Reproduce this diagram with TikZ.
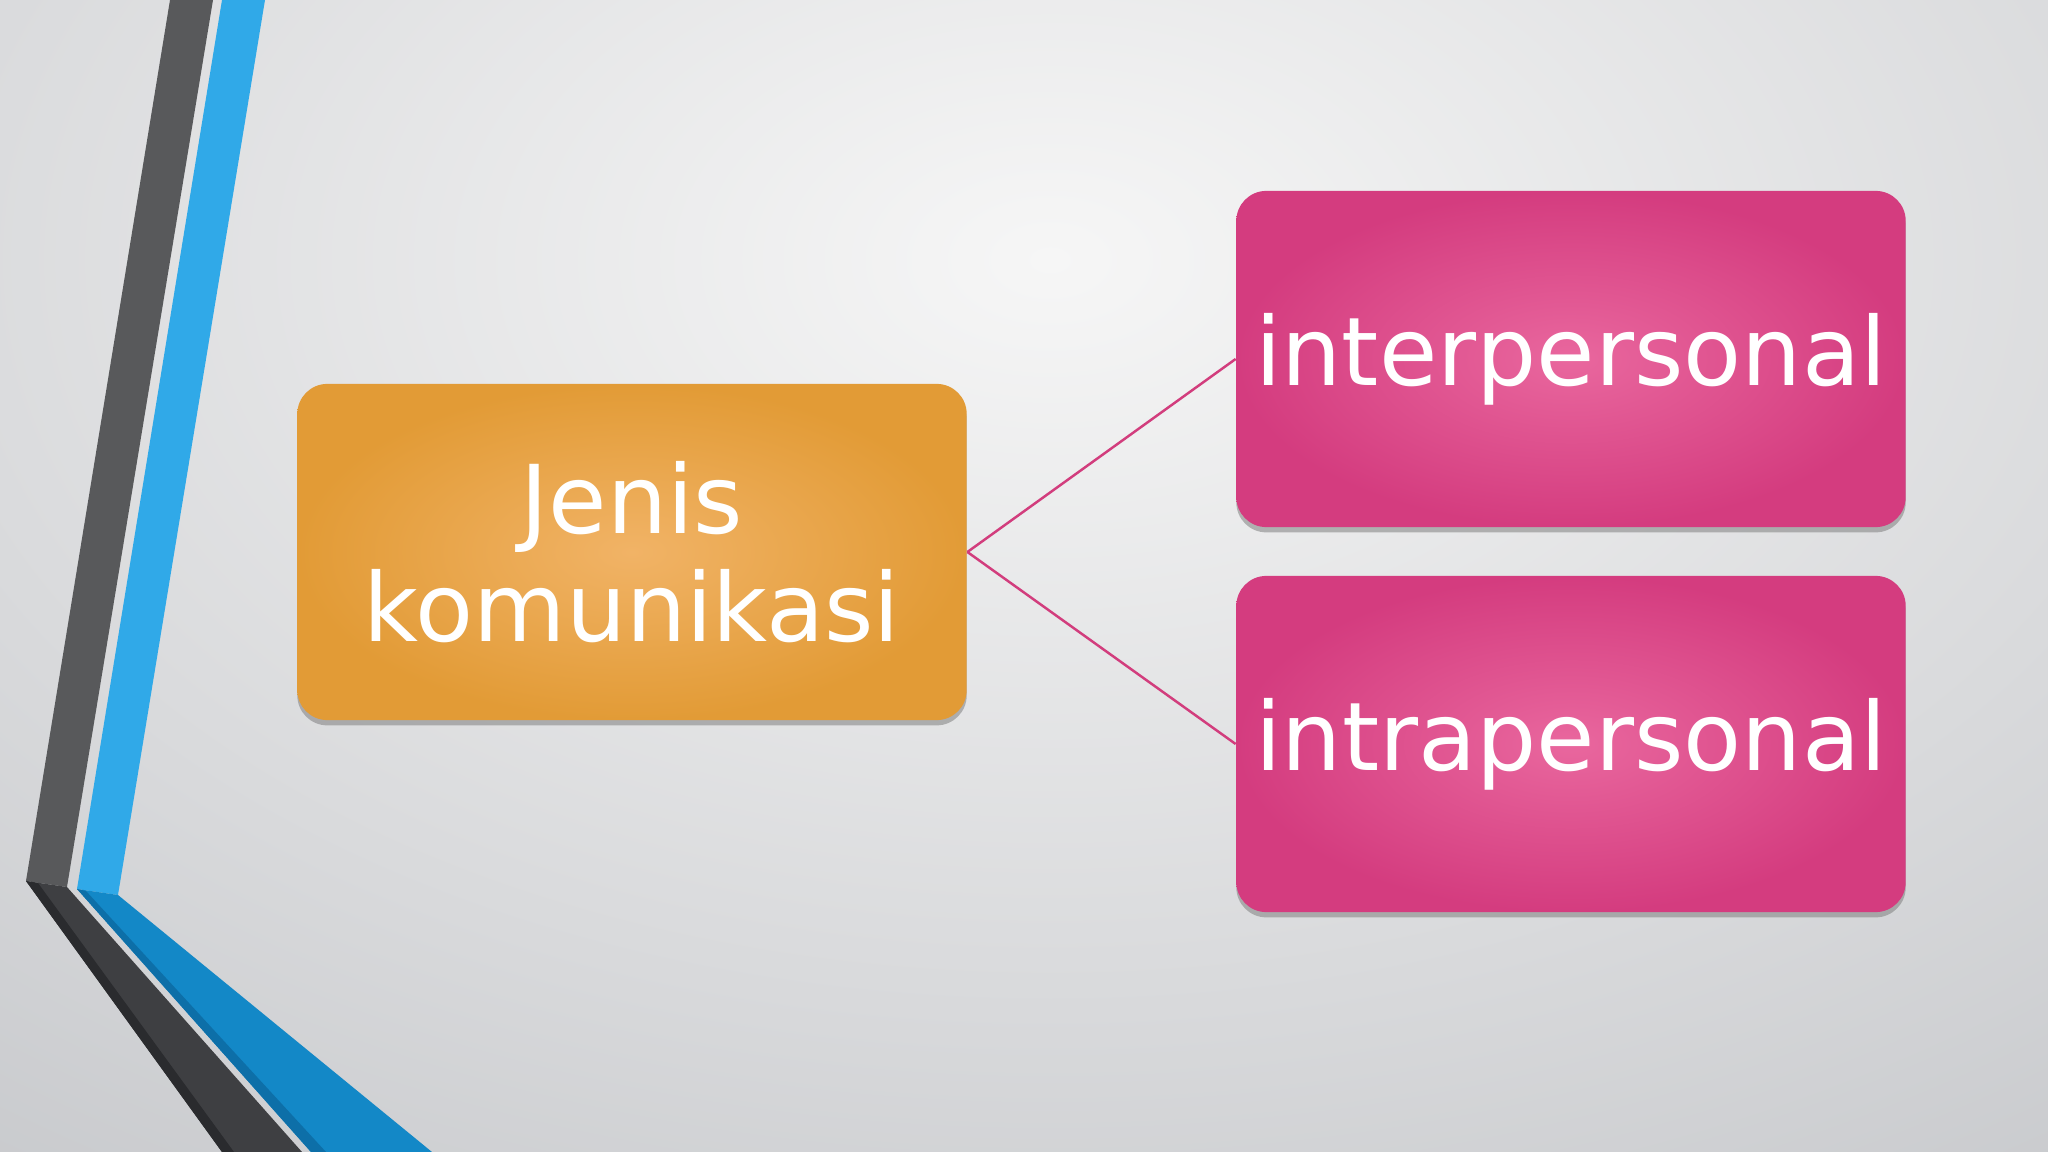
\documentclass[tikz,border=0pt]{standalone}
\usepackage{fontspec}
\setmainfont{DejaVu Sans}
\usetikzlibrary{shadows}
\definecolor{bgedge}{HTML}{BCBEC2}
\definecolor{bgmid}{HTML}{F6F6F6}
\definecolor{stripegray}{HTML}{58595B}
\definecolor{stripedark}{HTML}{3E3F42}
\definecolor{stripeblack}{HTML}{2A2B2E}
\definecolor{stripeblue}{HTML}{30A9E8}
\definecolor{stripedeep}{HTML}{1388C7}
\definecolor{stripenavy}{HTML}{0D6FA8}
\definecolor{orangeout}{HTML}{E29B36}
\definecolor{orangein}{HTML}{F1B366}
\definecolor{pinkout}{HTML}{D43C7F}
\definecolor{pinkin}{HTML}{E9679E}
\definecolor{linkpink}{HTML}{D23D7D}

\begin{document}
\begin{tikzpicture}[x=0.01cm, y=-0.01cm]
    \tikzset{
        box/.style = {rounded corners=0.3cm, minimum width=6.69cm, minimum height=3.36cm,
            text=white, align=center, font=\fontsize{27}{30.5}\selectfont,
            drop shadow={shadow xshift=0pt, shadow yshift=-1.5pt, opacity=0.55}},
        mainbox/.style = {box, inner color=orangein, outer color=orangeout},
        subbox/.style = {box, inner color=pinkin, outer color=pinkout},
        link/.style = {draw=linkpink, line width=0.7pt}
    }
    \useasboundingbox (0,0) rectangle (2048,1152);
    \fill[bgedge] (0,0) rectangle (2048,1152);
    \begin{scope}
        \clip (0,0) rectangle (2048,1152);
        \shade[inner color=bgmid, outer color=bgedge] (1050,260) ellipse (2300 and 1450);
    \end{scope}
    \fill[stripegray] (170,0) -- (213,0) -- (67,887) -- (26,881) -- cycle;
    \fill[stripeblue] (222,0) -- (265,0) -- (118,895) -- (77,889) -- cycle;
    \fill[stripedark] (26,881) -- (67,887) -- (302,1152) -- (222,1152) -- cycle;
    \fill[stripeblack] (26,881) -- (38,883) -- (234,1152) -- (222,1152) -- cycle;
    \fill[stripedeep] (77,889) -- (118,895) -- (432,1152) -- (311,1152) -- cycle;
    \fill[stripenavy] (77,889) -- (86,891) -- (326,1152) -- (311,1152) -- cycle;
    \node[mainbox] (jenis) at (632,552) {Jenis\\komunikasi};
    \node[subbox] (inter) at (1571,359) {interpersonal};
    \node[subbox] (intra) at (1571,744) {intrapersonal};
    \draw[link] (jenis.east) -- (inter.west);
    \draw[link] (jenis.east) -- (intra.west);
\end{tikzpicture}
\end{document}
